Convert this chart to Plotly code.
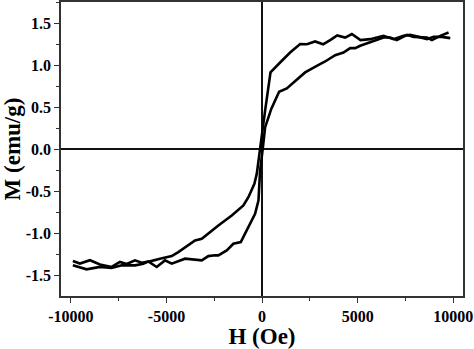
import plotly.graph_objects as go

# Descending branch (H from +10000 to -10000)
h_desc = [9844, 9409, 8969, 8624, 8184, 7749, 7398, 6875, 6351, 5655, 5150, 4695, 4346, 3930,
          3560, 3190, 2775, 2340, 1990, 1466, 942, 700, 440, 157, -130, -278, -403, -717,
          -979, -1587, -2288, -2812, -3157, -3508, -3859, -4382, -4728, -5000, -5341, -5864,
          -6300, -6650, -7084, -7435, -7870, -8482, -9006, -9529, -9900]
m_desc = [1.323, 1.338, 1.338, 1.311, 1.338, 1.362, 1.350, 1.311, 1.350, 1.311, 1.300, 1.372, 1.330, 1.355,
          1.300, 1.250, 1.283, 1.250, 1.252, 1.152, 1.033, 0.980, 0.915, 0.460, 0.000, -0.292, -0.411, -0.570,
          -0.669, -0.787, -0.906, -1.005, -1.064, -1.084, -1.144, -1.223, -1.271, -1.282, -1.302, -1.334,
          -1.350, -1.322, -1.365, -1.340, -1.400, -1.370, -1.320, -1.360, -1.330]

# Ascending branch (H from -10000 to +10000)
h_asc = [-9900, -9179, -8482, -7870, -7346, -6650, -6213, -5953, -5513, -5079, -4728, -4032,
         -3157, -2812, -2461, -2288, -1850, -1503, -1115, -367, -190, -105, 30, 157, 480,
         890, 1292, 1728, 2251, 2862, 3299, 3822, 4257, 4608, 4870, 5131, 5828, 6351, 6702,
         7050, 7577, 7922, 8624, 8886, 9320, 9755]
m_asc = [-1.381, -1.429, -1.400, -1.413, -1.381, -1.381, -1.361, -1.334, -1.401, -1.322, -1.361, -1.302,
         -1.322, -1.271, -1.262, -1.262, -1.203, -1.124, -1.104, -0.767, -0.609, -0.253, 0.000, 0.260, 0.480,
         0.685, 0.725, 0.816, 0.915, 0.994, 1.045, 1.120, 1.152, 1.204, 1.204, 1.232, 1.291, 1.330, 1.330,
         1.299, 1.362, 1.338, 1.330, 1.299, 1.350, 1.390]

x_ticks = [-10000, -5000, 0, 5000, 10000]
y_ticks = [-1.5, -1.0, -0.5, 0.0, 0.5, 1.0, 1.5]
y_tick_text = ["-1.5", "-1.0", "-0.5", "0.0", "0.5", "1.0", "1.5"]

FONT = "Liberation Serif"

fig = go.Figure()
for hx, my in ((h_desc, m_desc), (h_asc, m_asc)):
    fig.add_trace(go.Scatter(x=hx, y=my, mode="lines",
                             line=dict(color="black", width=2.6), showlegend=False,
                             hoverinfo="skip"))

axis_common = dict(
    showgrid=False, showline=True, linecolor="#333333", linewidth=1.6, mirror=True,
    ticks="outside", ticklen=5, tickwidth=1.2, tickcolor="#333333",
    zeroline=True, zerolinecolor="#111111", zerolinewidth=1.6,
    tickfont=dict(family=FONT, size=16, color="black", weight="bold"),
)

fig.update_layout(
    width=474, height=349,
    margin=dict(l=61, r=11, t=2, b=53),
    paper_bgcolor="white", plot_bgcolor="white",
    xaxis=dict(range=[-10520, 10510], tickvals=x_ticks, ticktext=[str(v) for v in x_ticks],
               minor=dict(ticks="outside", dtick=2500, tick0=0, ticklen=3, tickcolor="#333333"),
               title=dict(text="H (Oe)", font=dict(family=FONT, size=23, color="black", weight="bold"),
                          standoff=6),
               automargin=False, **axis_common),
    yaxis=dict(range=[-1.746, 1.753], tickvals=y_ticks, ticktext=y_tick_text,
               minor=dict(ticks="outside", dtick=0.25, tick0=0, ticklen=3, tickcolor="#333333"),
               title=dict(text="M (emu/g)", font=dict(family=FONT, size=23, color="black", weight="bold"),
                          standoff=4),
               automargin=False, **axis_common),
)

fig.write_html("out.html")
